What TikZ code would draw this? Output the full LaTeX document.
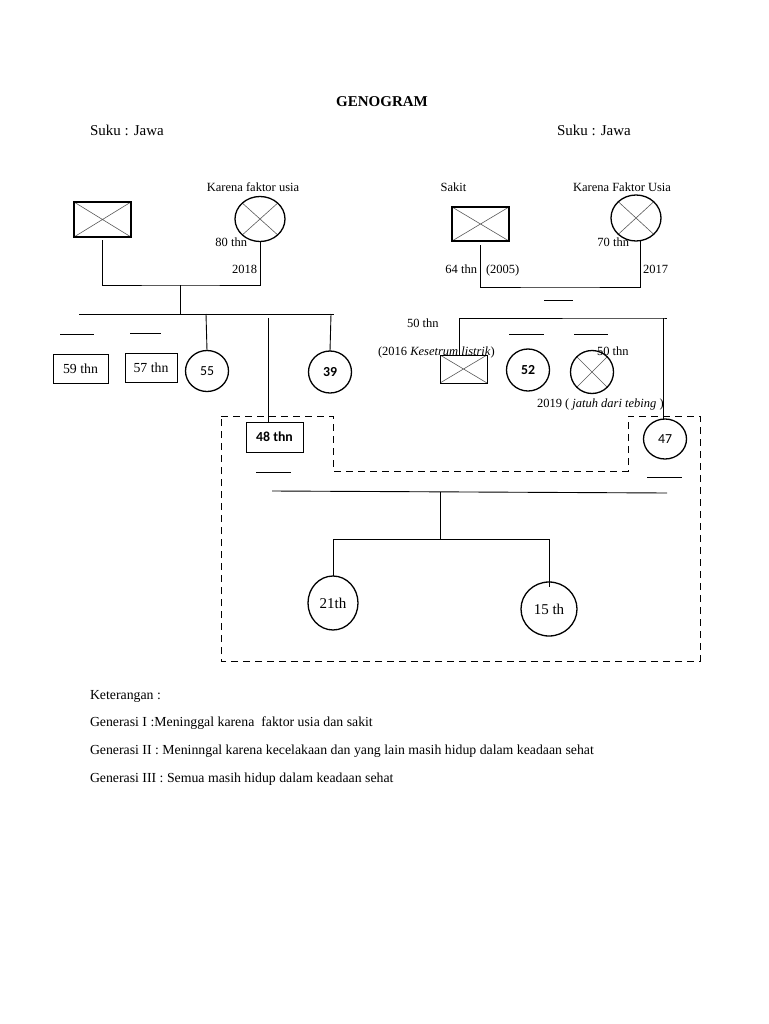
\documentclass[tikz,border=0pt]{standalone}
\usepackage{fontspec}
\setmainfont{Liberation Serif}
\newfontfamily\carl{Carlito}
\usetikzlibrary{shapes.geometric}
\newcommand{\fbig}{\fontsize{15}{18}\selectfont}
\newcommand{\fmid}{\fontsize{13.8}{16}\selectfont}
\newcommand{\fsmall}{\fontsize{12.5}{15}\selectfont}
\begin{document}
\begin{tikzpicture}[x=1pt,y=-1pt,
  every node/.style={inner sep=0pt, outer sep=0pt},
  ln/.style={line width=0.9pt},
  xmark/.style={path picture={\draw[line width=0.6pt, black!65]
     (path picture bounding box.north west) -- (path picture bounding box.south east)
     (path picture bounding box.north east) -- (path picture bounding box.south west);}},
  pbox/.style={draw, rectangle, line width=1pt, font=\fmid},
  pcirc/.style={draw, ellipse, line width=1.3pt, font=\fmid},
  lbl/.style={font=\fsmall},
  txt/.style={font=\fbig},
  ket/.style={font=\fmid, anchor=base west},
  blank/.style={line width=0.9pt},
  dashline/.style={line width=1pt, dash pattern=on 7pt off 5pt}
]
\useasboundingbox (0,0) rectangle (768,1024);

% title
\node[font=\bfseries\fbig, anchor=base] (title) at (382,107) {GENOGRAM};
\node[txt, anchor=base west] (suku1) at (90,136) {Suku : Jawa};
\node[txt, anchor=base west] (suku2) at (557,136) {Suku : Jawa};

% ---------- left grandparents
\node[pbox, xmark, line width=1.5pt, minimum width=57pt, minimum height=35pt] (gf1) at (102.5,219.5) {};
\node[pcirc, xmark, minimum width=50pt, minimum height=45pt] (gm1) at (260,219) {};
\node[lbl, anchor=base] (k1) at (253,192) {Karena faktor usia};
\node[lbl, anchor=base east] (a80) at (247,246) {80 thn};
\node[lbl, anchor=base] (y2018) at (244.5,273) {2018};
\coordinate (m1) at (180,285);
\draw[ln] ([yshift=-3pt]gf1.south) |- (m1) -| (gm1.south);
\coordinate (s1) at (180,314);
\draw[ln] (m1) -- (s1);
\coordinate (sl1) at (79,314);
\coordinate (sr1) at (334,314);
\draw[ln] (sl1) -- (sr1);

% left children
\coordinate (d1a) at (60,334); \coordinate (d1b) at (94,334);
\coordinate (d2a) at (130,333); \coordinate (d2b) at (161,333);
\draw[blank] (d1a) -- (d1b);
\draw[blank] (d2a) -- (d2b);
\node[pbox, minimum width=55pt, minimum height=29pt] (b59) at (80.5,368.5) {59 thn};
\node[pbox, minimum width=52pt, minimum height=29pt] (b57) at (151,367.5) {57 thn};
\node[pcirc, minimum width=43pt, minimum height=41pt, font=\carl\fmid] (c55) at (207,371) {55};
\node[pcirc, minimum width=43pt, minimum height=42pt, font=\carl\bfseries\fmid] (c39) at (330,372) {39};
\coordinate (t55) at (206,314);
\coordinate (t48) at (268,318);
\coordinate (t39) at (331,314);
\draw[ln] (t55) -- (c55.north);
\draw[ln] (t39) -- (c39.north);

% ---------- right grandparents
\node[lbl, anchor=base] (sakit) at (453.5,192) {Sakit};
\node[pbox, xmark, line width=1.3pt, minimum width=57pt, minimum height=34pt] (gf2) at (480.5,224) {};
\node[lbl, anchor=base] (k2) at (622,192) {Karena Faktor Usia};
\node[pcirc, xmark, minimum width=50pt, minimum height=46pt] (gm2) at (636,218) {};
\node[lbl, anchor=base east] (a70) at (629,246) {70 thn};
\node[lbl, anchor=base east] (a64) at (477,273) {64 thn};
\node[lbl, anchor=base west] (y2005) at (486,273) {(2005)};
\node[lbl, anchor=base west] (y2017) at (643,273) {2017};
\coordinate (m2) at (560,287);
\draw[ln] ([yshift=-4pt]gf2.south) |- (m2) -| ([xshift=4pt]gm2.south);
\coordinate (d3a) at (544,300); \coordinate (d3b) at (573,300);
\draw[blank] (d3a) -- (d3b);

% right children
\coordinate (sl2) at (459,318);
\coordinate (sr2) at (663,318);
\node[lbl, anchor=base west] (a50a) at (407,327) {50 thn};
\coordinate (d4a) at (509,334); \coordinate (d4b) at (544,334);
\coordinate (d5a) at (574,334); \coordinate (d5b) at (608,334);
\draw[blank] (d4a) -- (d4b);
\draw[blank] (d5a) -- (d5b);
\node[pbox, xmark, minimum width=47pt, minimum height=28pt] (bx) at (463.5,369) {};
\node[pcirc, minimum width=43pt, minimum height=42pt, font=\carl\bfseries\fmid] (c52) at (528,370) {52};
\node[pcirc, xmark, minimum width=43pt, minimum height=43pt] (cx) at (592,372) {};
\node[lbl, anchor=base west] (d2016) at (378,355) {(2016 \textit{Kesetrum listrik})};
\node[lbl, anchor=base west] (a50b) at (597,355) {50 thn};
\node[lbl, anchor=base west] (d2019) at (537,407) {2019 ( \textit{jatuh dari tebing} )};
\draw[ln] (bx.north -| sl2) -- (sl2) -- (sr2) -- ++(4,0);

% ---------- generation III
\draw[dashline] (221,416) -- (333,416) -- (333,471) -- (628,471) -- (628,416) -- (700,416) -- (700,661) -- (221,661) -- cycle;
\node[pbox, minimum width=57pt, minimum height=30pt, font=\carl\bfseries\fmid] (b48) at (274.5,437) {48 thn};
\node[pcirc, minimum width=43pt, minimum height=40pt, font=\carl\fmid] (c47) at (665,439) {47};
\draw[ln] (t48) -- ([xshift=-6.5pt]b48.north);
\draw[ln] (sr2) -- ([xshift=-2pt]c47.north);
\coordinate (d6a) at (256,472); \coordinate (d6b) at (291,472);
\coordinate (d7a) at (647,477); \coordinate (d7b) at (682,477);
\draw[blank] (d6a) -- (d6b);
\draw[blank] (d7a) -- (d7b);
\coordinate (ml) at (272,491);
\coordinate (mr) at (667,493);
\draw[ln] (ml) -- (mr);
\coordinate (m3) at (440,492);
\coordinate (j3) at (440,539);
\coordinate (jl) at (333,539);
\coordinate (jr) at (549,539);
\node[pcirc, minimum width=50pt, minimum height=54pt, font=\fbig] (c21) at (333,603) {21th};
\node[pcirc, minimum width=56pt, minimum height=54pt, font=\fbig] (c15) at (549,609) {15 th};
\draw[ln] (m3) -- (j3);
\draw[ln] (c21.north) -- (jl) -- (jr) -- ([yshift=-5pt]c15.north);

% ---------- keterangan
\node[ket] (ket0) at (90,699) {Keterangan :};
\node[ket] (ket1) at (90,726) {Generasi I :Meninggal karena\ \ faktor usia dan sakit};
\node[ket] (ket2) at (90,754) {Generasi II : Meninngal karena kecelakaan dan yang lain masih hidup dalam keadaan sehat};
\node[ket] (ket3) at (90,782) {Generasi III : Semua masih hidup dalam keadaan sehat};
\end{tikzpicture}
\end{document}
